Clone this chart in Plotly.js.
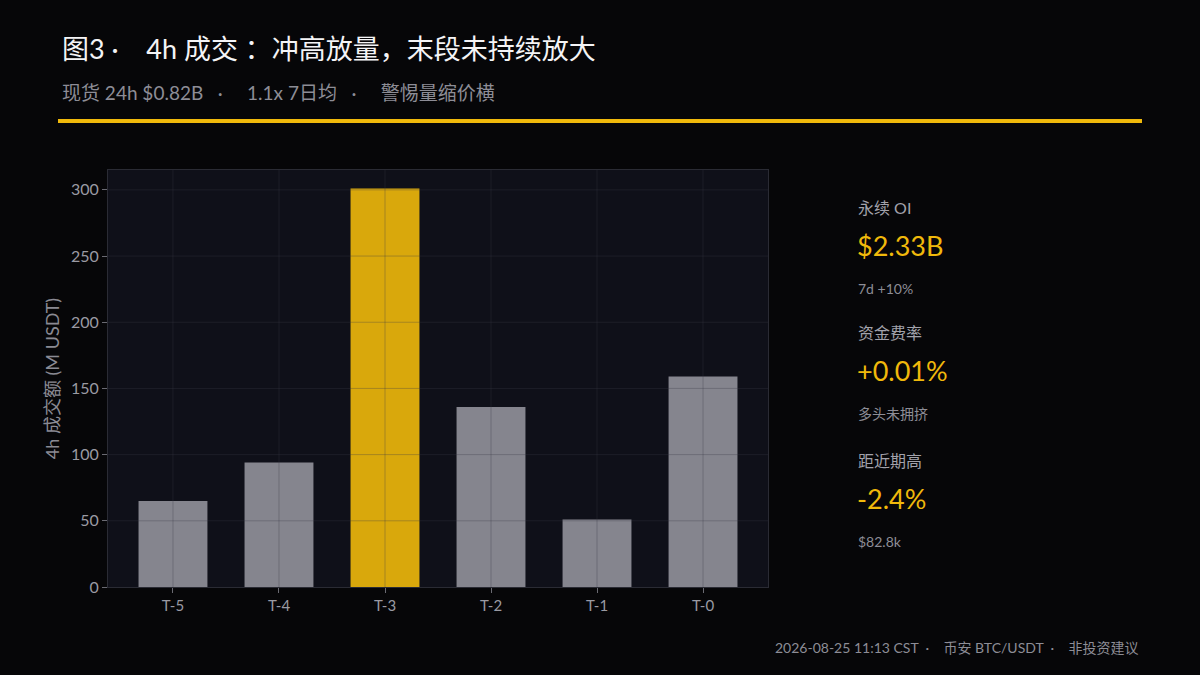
<!DOCTYPE html>
<html>
<head>
<meta charset="utf-8">
<script src="https://cdn.plot.ly/plotly-3.0.1.min.js"></script>
<style>
  html, body { margin: 0; padding: 0; background: #060608; }
  #plot { width: 1200px; height: 675px; }
</style>
</head>
<body>
<div id="plot"></div>
<script>
// 4h 成交额 (M USDT)
const periods = ['T-5', 'T-4', 'T-3', 'T-2', 'T-1', 'T-0']
const volumes = [65, 94, 301, 136, 51, 159]
const highlight = 'T-3'
const yTicks = [0, 50, 100, 150, 200, 250, 300]

// 右侧指标
const statLabels = ['永续 OI', '资金费率', '距近期高']
const statValues = ['$2.33B', '+0.01%', '-2.4%']
const statNotes = ['7d +10%', '多头未拥挤', '$82.8k']

const FONT = 'Lato, "Noto Sans CJK SC", sans-serif'
const GOLD = '#F0B90B'
const GRAY = '#92929b'
const SP = '&nbsp;'

// plot area in pixels: x 108..768, y 170..587
const L = 108, R = 768, T = 170, B = 587
const px = x => (x - L) / (R - L)
const py = y => (B - y) / (B - T)

const colors = periods.map(p => p === highlight ? GOLD : GRAY)

const data = [{
  type: 'bar',
  x: periods,
  y: volumes,
  marker: { color: colors, opacity: 0.9, line: { width: 0 } },
  hoverinfo: 'x+y'
}]

// grid lines drawn over the bars
const gridLine = 'rgba(58,59,70,0.32)'
const shapes = []
yTicks.slice(1).forEach(v => shapes.push({
  type: 'line', layer: 'above', xref: 'paper', x0: 0, x1: 1, yref: 'y', y0: v, y1: v,
  line: { color: gridLine, width: 1 }
}))
periods.forEach(p => shapes.push({
  type: 'line', layer: 'above', xref: 'x', x0: p, x1: p, yref: 'paper', y0: 0, y1: 1,
  line: { color: gridLine, width: 1 }
}))
// yellow rule under the header
shapes.push({
  type: 'line', xref: 'paper', yref: 'paper',
  x0: px(58), x1: px(1142), y0: py(121), y1: py(121),
  line: { color: GOLD, width: 4 }
})

const annotations = [
  { text: '图3 ·' + SP.repeat(4) + '4h 成交' + SP + '：冲高放量，末段未持续放大', x: px(60), y: py(48),
    font: { size: 27, color: '#f4f4f6' } },
  { text: '现货 24h $0.82B' + SP.repeat(3) + '·' + SP.repeat(5) + '1.1x 7日均' + SP.repeat(3) + '·' + SP.repeat(5) + '警惕量缩价横',
    x: px(60), y: py(92), font: { size: 19, color: '#8d8d96' } },
  { text: '2026-08-25 11:13 CST' + SP.repeat(2) + '·' + SP.repeat(4) + '币安 BTC/USDT' + SP.repeat(2) + '·' + SP.repeat(4) + '非投资建议',
    x: px(1140), y: py(647), xanchor: 'right', font: { size: 14, color: '#8d8d96' } }
]
const rows = [207, 332, 460]
statLabels.forEach((lab, i) => {
  const y0 = rows[i]
  annotations.push({ text: lab, x: px(856), y: py(y0), font: { size: 16, color: '#a2a2ab' } })
  annotations.push({ text: statValues[i], x: px(855), y: py(y0 + 38), font: { size: 27, color: GOLD } })
  annotations.push({ text: statNotes[i], x: px(856), y: py(y0 + 81), font: { size: 14, color: '#8d8d96' } })
})
annotations.forEach(a => {
  a.xref = 'paper'; a.yref = 'paper'; a.showarrow = false
  a.xanchor = a.xanchor || 'left'; a.yanchor = 'middle'
})

const layout = {
  width: 1200, height: 675,
  margin: { l: L, r: 1200 - R, t: T, b: 675 - B, pad: 0 },
  paper_bgcolor: '#060608',
  plot_bgcolor: '#0f1019',
  font: { family: FONT, color: '#9a9aa3', size: 15 },
  showlegend: false,
  bargap: 0.35,
  xaxis: {
    type: 'category', range: [-0.613, 5.613],
    showgrid: false, zeroline: false,
    showline: true, mirror: true, linecolor: '#2a2b34', linewidth: 1,
    ticks: 'outside', ticklen: 5, tickcolor: '#6a6a72',
    tickfont: { size: 15, color: '#9a9aa3' }
  },
  yaxis: {
    range: [0, 315], tickvals: yTicks,
    showgrid: false, zeroline: false,
    showline: true, mirror: true, linecolor: '#2a2b34', linewidth: 1,
    ticks: 'outside', ticklen: 5, tickcolor: '#6a6a72',
    tickfont: { size: 16, color: '#9a9aa3' },
    title: { text: '4h 成交额 (M USDT)', standoff: 6, font: { size: 18, color: '#8a8a93' } }
  },
  shapes: shapes,
  annotations: annotations
}

Plotly.newPlot('plot', data, layout, { displayModeBar: false, staticPlot: true })
</script>
</body>
</html>
